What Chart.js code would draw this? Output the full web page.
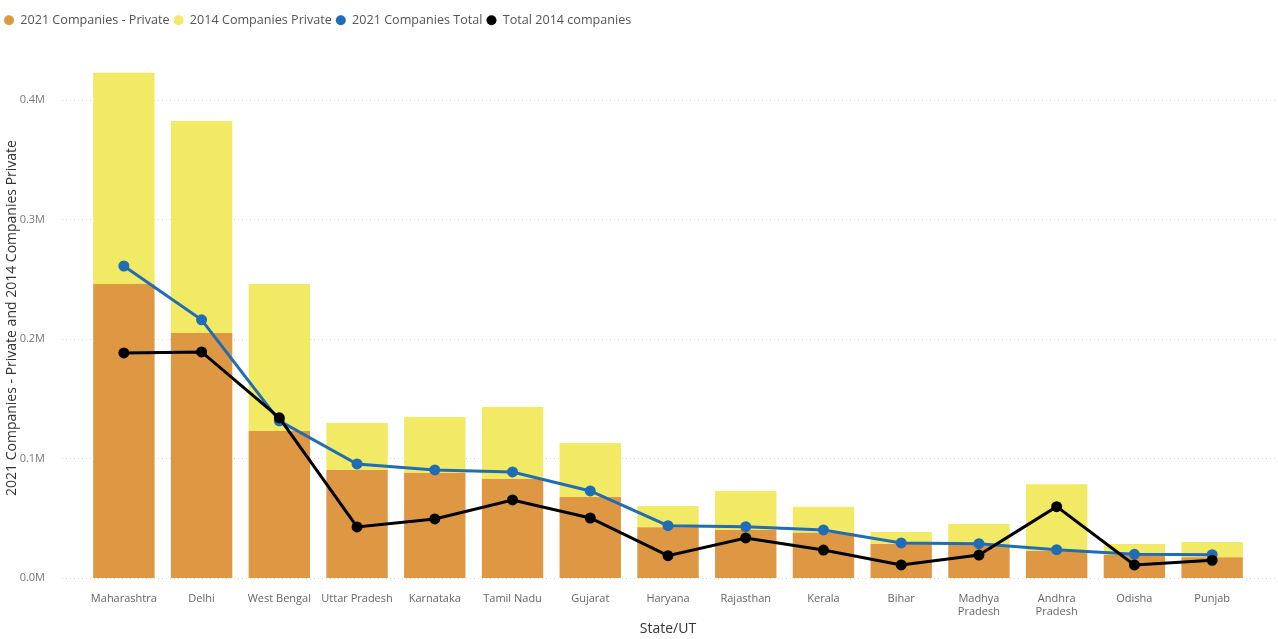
<!DOCTYPE html>
<html>
<head>
<meta charset="utf-8">
<script src="https://cdn.jsdelivr.net/npm/chart.js@4.4.1/dist/chart.umd.min.js"></script>
<style>
  html, body { margin: 0; padding: 0; background: #fff; }
  #wrap { width: 1278px; height: 639px; position: relative; }
</style>
</head>
<body>
<div id="wrap"><canvas id="chart"></canvas></div>
<script>
const states = [
  "Maharashtra", "Delhi", "West Bengal", "Uttar Pradesh", "Karnataka",
  "Tamil Nadu", "Gujarat", "Haryana", "Rajasthan", "Kerala", "Bihar",
  ["Madhya", "Pradesh"], ["Andhra", "Pradesh"], "Odisha", "Punjab"
];
const private2021 = [
  246000, 205000, 123000, 90400, 87900, 82800, 67800, 42400, 40200,
  37900, 28500, 27600, 22800, 19200, 17300
];
const private2014 = [
  176600, 177400, 123000, 39300, 46800, 60300, 45200, 17900, 32600,
  21800, 10000, 17600, 55600, 9300, 12800
];
const total2021 = [
  261000, 216000, 131500, 95400, 90400, 88700, 72800, 43800, 42900,
  40200, 29300, 28700, 23700, 19800, 19500
];
const total2014 = [
  188300, 189100, 134000, 42700, 49400, 65300, 50200, 18700, 33500,
  23400, 10900, 19200, 59700, 10900, 14800
];
const yTicks = [0, 100000, 200000, 300000, 400000];

const font = "'Segoe UI', 'Open Sans', 'Noto Sans', sans-serif";

// dotted gridlines that run wider than the bars, like the original
const wideGrid = {
  id: "wideGrid",
  beforeDatasetsDraw(chart) {
    const ctx = chart.ctx;
    const y = chart.scales.y;
    ctx.save();
    ctx.strokeStyle = "#d6d6d6";
    ctx.lineWidth = 1;
    ctx.setLineDash([1, 3]);
    yTicks.forEach((v) => {
      const py = Math.round(y.getPixelForValue(v)) + 0.5;
      ctx.beginPath();
      ctx.moveTo(62, py);
      ctx.lineTo(1275, py);
      ctx.stroke();
    });
    ctx.restore();
  },
};

// leave room under the legend the way the original does
const legendRoom = {
  id: "legendRoom",
  beforeInit(chart) {
    const fit = chart.legend.fit;
    chart.legend.fit = function () {
      fit.bind(chart.legend)();
      this.height = 48;
    };
  },
};

new Chart(document.querySelector("#chart").getContext("2d"), {
  data: {
    labels: states,
    datasets: [
      {
        type: "bar",
        label: "2021 Companies - Private",
        data: private2021,
        backgroundColor: "#DE9844",
        stack: "bars",
        order: 2,
        barPercentage: 0.79,
        categoryPercentage: 1,
      },
      {
        type: "bar",
        label: "2014 Companies Private",
        data: private2014,
        backgroundColor: "#F2EA64",
        stack: "bars",
        order: 2,
        barPercentage: 0.79,
        categoryPercentage: 1,
      },
      {
        type: "line",
        label: "2021 Companies Total",
        data: total2021,
        borderColor: "#1F6DB5",
        backgroundColor: "#1F6DB5",
        borderWidth: 3,
        pointRadius: 4,
        pointHoverRadius: 4,
        stack: "l1",
        order: 1,
      },
      {
        type: "line",
        label: "Total 2014 companies",
        data: total2014,
        borderColor: "#000000",
        backgroundColor: "#000000",
        borderWidth: 3,
        pointRadius: 4,
        pointHoverRadius: 4,
        stack: "l2",
        order: 0,
      },
    ],
  },
  options: {
    responsive: true,
    maintainAspectRatio: false,
    animation: false,
    layout: { padding: { left: 0, right: 27, top: 10, bottom: 0 } },
    plugins: {
      legend: {
        position: "top",
        align: "start",
        labels: {
          usePointStyle: true,
          pointStyle: "circle",
          boxHeight: 7.07,
          pointStyleWidth: 10,
          padding: 4,
          color: "#555",
          font: { family: font, size: 12.6 },
          sort: (a, b) => a.datasetIndex - b.datasetIndex,
          generateLabels: (chart) =>
            Chart.defaults.plugins.legend.labels
              .generateLabels(chart)
              .map((item) => ({
                ...item,
                pointStyle: "circle",
                lineWidth: 0,
                strokeStyle: item.fillStyle,
              })),
        },
      },
      tooltip: { enabled: false },
    },
    scales: {
      x: {
        stacked: true,
        afterFit: (axis) => {
          axis.height = 61;
        },
        grid: { display: false },
        border: { display: false },
        ticks: {
          autoSkip: false,
          maxRotation: 0,
          color: "#666",
          padding: 6,
          font: { family: font, size: 11 },
        },
        title: {
          display: true,
          text: "State/UT",
          color: "#333",
          padding: { top: 0, bottom: 2 },
          font: { family: font, size: 14 },
        },
      },
      y: {
        stacked: true,
        min: 0,
        max: 435000,
        afterBuildTicks: (axis) => {
          axis.ticks = yTicks.map((v) => ({ value: v }));
        },
        afterFit: (axis) => {
          axis.width = 85;
        },
        grid: { display: false },
        border: { display: false },
        ticks: {
          color: "#777",
          padding: 32,
          font: { family: font, size: 11 },
          callback: (v) => (v / 1000000).toFixed(1) + "M",
        },
        title: {
          display: true,
          text: "2021 Companies - Private and 2014 Companies Private",
          color: "#333",
          padding: { top: 4, bottom: 0 },
          font: { family: font, size: 14 },
        },
      },
    },
  },
  plugins: [wideGrid, legendRoom],
});
</script>
</body>
</html>
